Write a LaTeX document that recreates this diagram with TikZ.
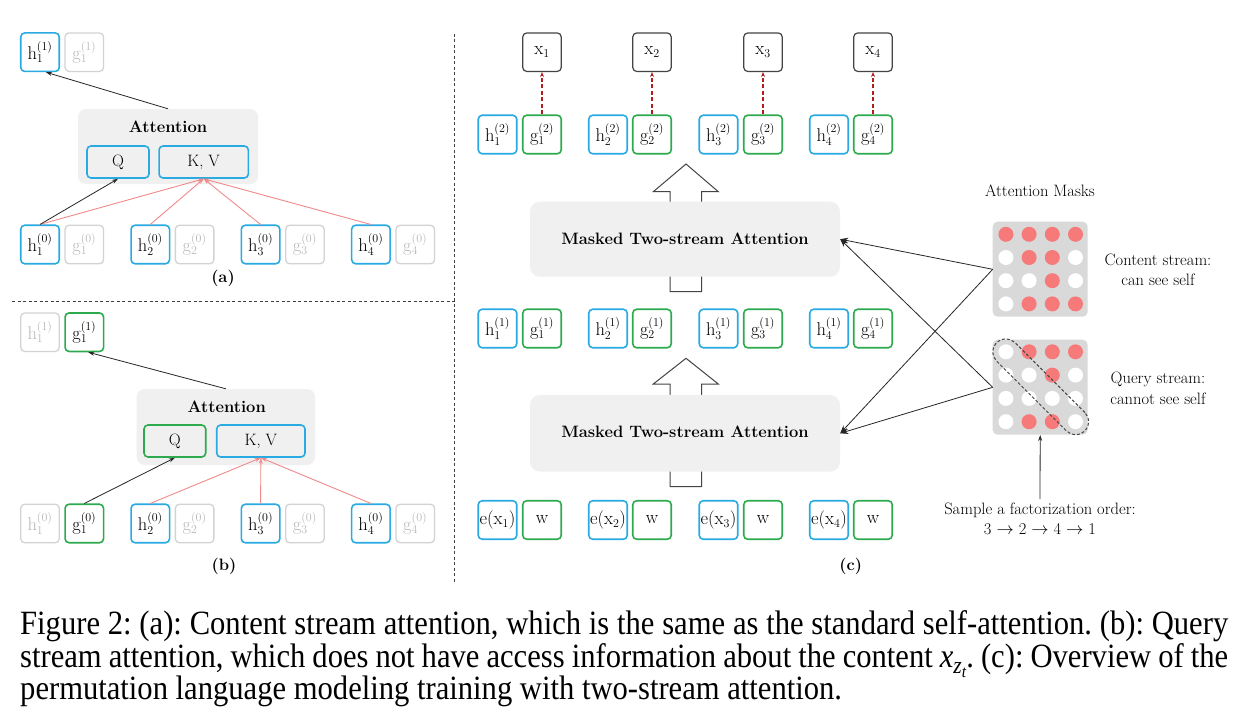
\documentclass[tikz,border=0pt]{standalone}
\usepackage{fontspec}
\usepackage{graphicx}
\newfontfamily\capfont{Liberation Serif}
\usetikzlibrary{arrows.meta}
\definecolor{cblue}{HTML}{2AAAE2}
\definecolor{cgreen}{HTML}{2EAA4E}
\definecolor{cgraybd}{HTML}{D3D3D3}
\definecolor{cgraytx}{HTML}{B8B8B8}
\definecolor{cdark}{HTML}{444444}
\definecolor{cattn}{HTML}{F0F0F0}
\definecolor{cmask}{HTML}{D9D9D9}
\definecolor{cred}{HTML}{F67A7A}
\definecolor{ckv}{HTML}{F08A8A}
\definecolor{cdred}{HTML}{B51C1C}
\tikzset{
  lab/.style={font=\fontsize{16.5}{20.7}\selectfont, inner sep=0pt},
  cell/.style={draw, rounded corners=4pt, line width=1.6pt, minimum width=38.5pt,
    minimum height=38.5pt, inner sep=0pt, font=\fontsize{18.5}{20}\selectfont, text=black},
  hb/.style={cell, draw=cblue},
  gb/.style={cell, draw=cgreen},
  offb/.style={cell, draw=cgraybd, text=cgraytx, line width=1.3pt},
  xb/.style={cell, draw=cdark, line width=1.2pt},
  attn/.style={fill=cattn, rounded corners=8pt, inner sep=0pt},
  qk/.style={draw, rounded corners=4pt, line width=1.6pt, minimum height=32pt,
    inner sep=0pt, font=\fontsize{16.5}{19}\selectfont},
  blk/.style={-{Stealth[length=6pt,width=4pt]}, line width=0.8pt, draw=black!85},
  kvarrow/.style={-{Stealth[length=6pt,width=4pt]}, line width=0.9pt, draw=ckv},
  rdarrow/.style={-{Stealth[length=5pt,width=4pt]}, line width=2pt, draw=cdred,
    dash pattern=on 4pt off 2.5pt},
  sepline/.style={draw=black!75, line width=0.8pt, dash pattern=on 3pt off 2.5pt},
  hollow/.style={draw=cdark, fill=white, line width=1pt, line join=miter},
  maskarrow/.style={-{Stealth[length=8pt,width=6pt]}, line width=0.8pt, draw=black!85},
  caption/.style={anchor=base west, inner sep=0pt, font=\capfont\fontsize{34}{38}\selectfont\frenchspacing}
}
\begin{document}
\begin{tikzpicture}[x=1pt,y=-1pt]
\fill[white] (0,0) rectangle (1245,709);
\useasboundingbox (0,0) rectangle (1245,709);

% separators
\draw[sepline] (12,301.7) -- (454.5,301.7);
\draw[sepline] (454.5,34) -- (454.5,583);

% ================= panel (a) =================
\node[hb] (at1) at (40,52.2) {$\mathrm{h}_1^{(1)}$};
\node[offb] (atg1) at (84.3,52.2) {$\mathrm{g}_1^{(1)}$};
\foreach \i in {1,...,4} {
  \node[hb] (ah\i) at ({40+110.3*(\i-1)},244.5) {$\mathrm{h}_{\i}^{(0)}$};
  \node[offb] (ag\i) at ({84.3+110.3*(\i-1)},244.5) {$\mathrm{g}_{\i}^{(0)}$};
}
\node[attn, minimum width=180pt, minimum height=75pt] (aatt) at (168,146.5) {};
\node[lab] (aattl) at (168,127) {\bfseries Attention};
\node[qk, draw=cblue, minimum width=62pt] (aq) at (118,162) {Q};
\node[qk, draw=cblue, minimum width=89.3pt] (akv) at (203.7,162) {K, V};
\foreach \i in {1,...,4} { \draw[kvarrow] (ah\i.north) -- (akv.south); }
\draw[blk] (ah1.north) -- (aq.south);
\draw[blk] (aatt.north) -- ([xshift=6pt]at1.south);
\node[lab] (alab) at (223,278) {\bfseries (a)};

% ================= panel (b) =================
\node[offb] (bt1) at (40,332.2) {$\mathrm{h}_1^{(1)}$};
\node[gb] (btg1) at (84.3,332.2) {$\mathrm{g}_1^{(1)}$};
\node[offb] (bh1) at (40,523.5) {$\mathrm{h}_1^{(0)}$};
\node[gb] (bg1) at (84.3,523.5) {$\mathrm{g}_1^{(0)}$};
\foreach \i in {2,3,4} {
  \node[hb] (bh\i) at ({40+110.3*(\i-1)},523.5) {$\mathrm{h}_{\i}^{(0)}$};
  \node[offb] (bg\i) at ({84.3+110.3*(\i-1)},523.5) {$\mathrm{g}_{\i}^{(0)}$};
}
\node[attn, minimum width=178.3pt, minimum height=76pt] (batt) at (225.85,427) {};
\node[lab] (battl) at (226.7,406.7) {\bfseries Attention};
\node[qk, draw=cgreen, minimum width=61.7pt] (bq) at (174.85,441) {Q};
\node[qk, draw=cblue, minimum width=88.3pt] (bkv) at (260.85,441) {K, V};
\foreach \i in {2,3,4} { \draw[kvarrow] (bh\i.north) -- (bkv.south); }
\draw[blk] (bg1.north) -- (bq.south);
\draw[blk] (batt.north) -- ([xshift=4pt]btg1.south);
\node[lab] (blab) at (224,566.7) {\bfseries (b)};

% ================= panel (c) =================
\foreach \i/\hx/\gx in {1/497.5/542, 2/608/652, 3/718.5/763, 4/829/873} {
  \node[xb] (cx\i) at (\gx,52.2) {$\mathrm{x}_{\i}$};
  \node[hb] (ch2\i) at (\hx,134.5) {$\mathrm{h}_{\i}^{(2)}$};
  \node[gb] (cg2\i) at (\gx,134.5) {$\mathrm{g}_{\i}^{(2)}$};
  \node[hb] (ch1\i) at (\hx,328.5) {$\mathrm{h}_{\i}^{(1)}$};
  \node[gb] (cg1\i) at (\gx,328.5) {$\mathrm{g}_{\i}^{(1)}$};
  \node[hb] (ce\i) at (\hx,520) {e($\mathrm{x}_{\i}$)};
  \node[gb] (cw\i) at (\gx,520) {w};
  \draw[rdarrow] (cg2\i.north) -- (cx\i.south);
}
% hollow arrows
\draw[hollow] (670,291.7) -- (670,191.7) -- (653.3,191.7) -- (686,164) -- (718.3,191.7)
  -- (701.7,191.7) -- (701.7,291.7) -- cycle;
\draw[hollow] (670,486.7) -- (670,384) -- (653.3,384) -- (686,358.3) -- (718.3,384)
  -- (701.7,384) -- (701.7,486.7) -- cycle;
\node[attn, rounded corners=10pt, minimum width=310pt, minimum height=75pt] (mta1) at (685,239.2) {};
\node[lab] (mta1l) at (685,238.3) {\bfseries Masked Two-stream Attention};
\node[attn, rounded corners=10pt, minimum width=310pt, minimum height=76.7pt] (mta2) at (685,433.3) {};
\node[lab] (mta2l) at (685,431.7) {\bfseries Masked Two-stream Attention};
\node[lab] (clab) at (850.7,566.7) {\bfseries (c)};

% attention masks
\node[lab] (amt) at (1040,190.7) {Attention Masks};
\node[fill=cmask, rounded corners=5pt, minimum width=95pt, minimum height=95pt, inner sep=0pt] (mask1) at (1040.2,269.2) {};
\node[fill=cmask, rounded corners=5pt, minimum width=95pt, minimum height=95pt, inner sep=0pt] (mask2) at (1040.2,387.2) {};
\foreach \row [count=\ri] in {{cred,cred,cred,cred},{white,cred,cred,white},{white,white,cred,white},{white,cred,cred,cred}} {
  \foreach \v [count=\ci] in \row {
    \fill[fill=\v] ({1005.9+23.2*(\ci-1)},{234.3+23.2*(\ri-1)}) circle (7.5);
  }
}
\foreach \row [count=\ri] in {{white,cred,cred,cred},{white,white,cred,white},{white,white,white,white},{white,cred,cred,white}} {
  \foreach \v [count=\ci] in \row {
    \fill[fill=\v] ({1005.9+23.2*(\ci-1)},{351.8+23.3*(\ri-1)}) circle (7.5);
  }
}
\node[draw=cdark, line width=1pt, dash pattern=on 3pt off 2pt, rounded corners=13pt,
  minimum width=125pt, minimum height=26pt, inner sep=0pt, rotate=-45] (diag) at (1040.7,386.8) {};
\node[lab, align=center] (cst) at (1158,269.7) {Content stream:\\can see self};
\node[lab, align=center] (qst) at (1158,388.3) {Query stream:\\cannot see self};

\coordinate (m1) at (992.7,269.3);
\coordinate (m2) at (992.7,387.3);
\draw[maskarrow] (m1) -- (mta1.east);
\draw[maskarrow] (m1) -- (mta2.east);
\draw[maskarrow] (m2) -- (mta1.east);
\draw[maskarrow] (m2) -- (mta2.east);

\node[lab, align=center, font=\fontsize{16.5}{19.5}\selectfont] (samp) at (1040,518.8) {Sample a factorization order:\\3 $\rightarrow$ 2 $\rightarrow$ 4 $\rightarrow$ 1};
\draw[blk] ([yshift=4pt]samp.north) -- (mask2.south);

% caption
\node[caption] (cap1) at (20,634.5) {\scalebox{0.9}[1]{\makebox[1342.2pt][s]{Figure 2: (a): Content stream attention, which is the same as the standard self-attention. (b): Query}}};
\node[caption] (cap2) at (20,667) {\scalebox{0.9}[1]{\makebox[1342.2pt][s]{stream attention, which does not have access information about the content \textit{x}{\fontsize{24}{24}\selectfont\raisebox{-6.5pt}{\textit{z}\raisebox{-3.5pt}{\fontsize{17}{17}\selectfont\textit{t}}}}. (c): Overview of the}}};
\node[caption] (cap3) at (20,699.5) {\scalebox{0.9}[1]{permutation language modeling training with two-stream attention.}};
\end{tikzpicture}
\end{document}
